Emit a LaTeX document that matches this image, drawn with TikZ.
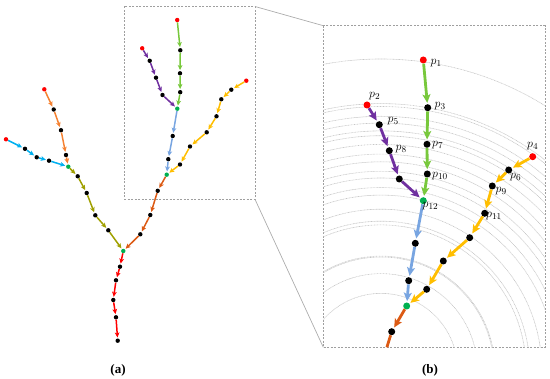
\documentclass[tikz,border=0pt]{standalone}
\usepackage{fontspec}
\newfontfamily\capfont{Liberation Serif}
\usetikzlibrary{arrows.meta}
\definecolor{cRed}{RGB}{255,0,0}
\definecolor{cOlive}{RGB}{160,160,0}
\definecolor{cDOrange}{RGB}{220,90,20}
\definecolor{cLOrange}{RGB}{245,130,50}
\definecolor{cCyan}{RGB}{0,176,240}
\definecolor{cGreen}{RGB}{120,200,60}
\definecolor{cPurple}{RGB}{112,48,160}
\definecolor{cLBlue}{RGB}{120,165,225}
\definecolor{cYellow}{RGB}{255,190,0}
\definecolor{cJunc}{RGB}{0,176,80}
\definecolor{cArc}{RGB}{198,198,198}
\begin{document}
\begin{tikzpicture}[x=1pt,y=-1pt,
  ldot/.style={circle,inner sep=0pt,minimum size=4.4pt,fill=black},
  rdot/.style={circle,inner sep=0pt,minimum size=7pt,fill=black},
  tipdot/.style={fill=cRed},
  juncdot/.style={fill=cJunc},
  larr/.style={line width=1.5pt,-{Stealth[length=5pt,width=4.6pt,inset=1.2pt]},shorten >=0.8pt},
  rarr/.style={line width=2.8pt,-{Stealth[length=8.5pt,width=8pt,inset=2pt]},shorten >=1.2pt},
  arcline/.style={draw=cArc,line width=0.6pt,dash pattern=on 0.9pt off 0.6pt},
  zoombox/.style={draw=gray!75,line width=0.7pt,dash pattern=on 2pt off 1.5pt},
  linkline/.style={draw=gray!65,line width=0.7pt},
  lbl/.style={inner sep=0pt,anchor=west,font=\fontsize{13}{15}\selectfont},
  captext/.style={font=\capfont\fontsize{13}{15}\selectfont\bfseries}
]
\useasboundingbox (0,0) rectangle (550,379);

% ---------------- zoom frames and links
\coordinate (sA) at (124.5,6.5);
\coordinate (sB) at (255,199.3);
\coordinate (bA) at (323.3,25.7);
\coordinate (bB) at (545,347.3);
\draw[zoombox] (sA) rectangle (sB);
\draw[zoombox] (bA) rectangle (bB);
\coordinate (sTR) at (255,6.5);
\coordinate (bTL) at (323.3,25.7);
\coordinate (bBL) at (323.3,347.3);
\draw[linkline] (sTR) -- (bTL);
\draw[linkline] (sB) -- (bBL);

% ---------------- background arcs in panel (b)
\begin{scope}
\clip (bA) rectangle (bB);
\coordinate (ctr) at (381,370);
\foreach \r in {311,266.4,263.5,253.7,246.9,239.1,234.3,225.6,215.9,208.2,198.7,192,182.5,174.9,160.8,148.8,145.1,113.9,113,96.4,76.6}
  \draw[arcline] (ctr) circle[radius=\r pt];
\end{scope}

% ---------------- panel (a)
\node[ldot,juncdot] (lJ0) at (123.3,251) {};
\node[ldot] (t1) at (120,266.7) {};
\node[ldot] (t2) at (116,280.3) {};
\node[ldot] (t3) at (113.3,300) {};
\node[ldot] (t4) at (116,317.3) {};
\node[ldot] (t5) at (117.7,340.7) {};
\node[ldot,juncdot] (lJ1) at (68.3,166.7) {};
\node[ldot] (o1) at (77.7,176.3) {};
\node[ldot] (o2) at (86.7,193) {};
\node[ldot] (o3) at (95.3,215.3) {};
\node[ldot] (o4) at (108.3,230.3) {};
\node[ldot,tipdot] (oa0) at (44.3,89.3) {};
\node[ldot] (oa1) at (53.7,109.5) {};
\node[ldot] (oa2) at (61,130.2) {};
\node[ldot] (oa3) at (66,155) {};
\node[ldot,tipdot] (c0) at (6,139.3) {};
\node[ldot] (c1) at (25,148.8) {};
\node[ldot] (c2) at (36.7,157.3) {};
\node[ldot] (c3) at (49,160.7) {};
\node[ldot,juncdot] (lJ2) at (166.7,174.7) {};
\node[ldot] (d1) at (157.7,190.8) {};
\node[ldot] (d2) at (150.3,215) {};
\node[ldot] (d3) at (140.3,234.3) {};
\node[ldot,tipdot] (g0) at (177.2,20) {};
\node[ldot] (g1) at (180.3,50.3) {};
\node[ldot] (g2) at (180,73.3) {};
\node[ldot] (g3) at (180.2,92.2) {};
\node[ldot,juncdot] (lJ3) at (177.3,108.7) {};
\node[ldot,tipdot] (u0) at (142.2,48.3) {};
\node[ldot] (u1) at (149.7,60.8) {};
\node[ldot] (u2) at (156,77.7) {};
\node[ldot] (u3) at (162.5,95) {};
\node[ldot] (b1) at (172.7,136) {};
\node[ldot] (b2) at (168.3,159.2) {};
\node[ldot,tipdot] (y0) at (246.3,80.7) {};
\node[ldot] (y1) at (231.3,89.7) {};
\node[ldot] (y2) at (221.3,99.3) {};
\node[ldot] (y3) at (216.5,116.3) {};
\node[ldot] (y4) at (206.7,132.3) {};
\node[ldot] (y5) at (190,146.5) {};
\node[ldot] (y6) at (180,164.5) {};
\draw[larr,cRed] (lJ0) -- (t1); \draw[larr,cRed] (t1) -- (t2); \draw[larr,cRed] (t2) -- (t3);
\draw[larr,cRed] (t3) -- (t4); \draw[larr,cRed] (t4) -- (t5);
\draw[larr,cOlive] (lJ1) -- (o1); \draw[larr,cOlive] (o1) -- (o2); \draw[larr,cOlive] (o2) -- (o3);
\draw[larr,cOlive] (o3) -- (o4); \draw[larr,cOlive] (o4) -- (lJ0);
\draw[larr,cLOrange] (oa0) -- (oa1); \draw[larr,cLOrange] (oa1) -- (oa2); \draw[larr,cLOrange] (oa2) -- (oa3);
\draw[larr,cLOrange] (oa3) -- (lJ1);
\draw[larr,cCyan] (c0) -- (c1); \draw[larr,cCyan] (c1) -- (c2); \draw[larr,cCyan] (c2) -- (c3);
\draw[larr,cCyan] (c3) -- (lJ1);
\draw[larr,cDOrange] (lJ2) -- (d1); \draw[larr,cDOrange] (d1) -- (d2); \draw[larr,cDOrange] (d2) -- (d3);
\draw[larr,cDOrange] (d3) -- (lJ0);
\draw[larr,cGreen] (g0) -- (g1); \draw[larr,cGreen] (g1) -- (g2); \draw[larr,cGreen] (g2) -- (g3);
\draw[larr,cGreen] (g3) -- (lJ3);
\draw[larr,cPurple] (u0) -- (u1); \draw[larr,cPurple] (u1) -- (u2); \draw[larr,cPurple] (u2) -- (u3);
\draw[larr,cPurple] (u3) -- (lJ3);
\draw[larr,cLBlue] (lJ3) -- (b1); \draw[larr,cLBlue] (b1) -- (b2); \draw[larr,cLBlue] (b2) -- (lJ2);
\draw[larr,cYellow] (y0) -- (y1); \draw[larr,cYellow] (y1) -- (y2); \draw[larr,cYellow] (y2) -- (y3);
\draw[larr,cYellow] (y3) -- (y4); \draw[larr,cYellow] (y4) -- (y5); \draw[larr,cYellow] (y5) -- (y6);
\draw[larr,cYellow] (y6) -- (lJ2);
\node[captext] (capa) at (118,370) {(a)};

% ---------------- panel (b)
\node[rdot,tipdot] (R1) at (423.3,60) {};
\node[rdot] (R3) at (427.7,107.7) {};
\node[rdot] (R7) at (427,144.3) {};
\node[rdot] (R10) at (427.3,174) {};
\node[rdot,juncdot] (R12) at (423.3,200.7) {};
\node[rdot,tipdot] (R2) at (367,105) {};
\node[rdot] (R5) at (379.3,124.7) {};
\node[rdot] (R8) at (389.3,150.7) {};
\node[rdot] (Ru4) at (399.3,179) {};
\node[rdot] (Rb1) at (415.3,243.3) {};
\node[rdot] (Rb2) at (408.7,280.7) {};
\node[rdot,juncdot] (RJ) at (406.7,306) {};
\node[rdot,tipdot] (R4) at (532.7,156.7) {};
\node[rdot] (R6) at (508.7,170) {};
\node[rdot] (R9) at (492.3,186) {};
\node[rdot] (R11) at (484.7,213.3) {};
\node[rdot] (Ry1) at (469.7,237.7) {};
\node[rdot] (Ry2) at (443.3,261) {};
\node[rdot] (Ry3) at (426.7,289.3) {};
\node[rdot] (Ro1) at (391.7,331.7) {};
\coordinate (Rend) at (386.9,347.3);
\draw[rarr,cGreen] (R1) -- (R3); \draw[rarr,cGreen] (R3) -- (R7); \draw[rarr,cGreen] (R7) -- (R10);
\draw[rarr,cGreen] (R10) -- (R12);
\draw[rarr,cPurple] (R2) -- (R5); \draw[rarr,cPurple] (R5) -- (R8); \draw[rarr,cPurple] (R8) -- (Ru4);
\draw[rarr,cPurple] (Ru4) -- (R12);
\draw[rarr,cLBlue] (R12) -- (Rb1); \draw[rarr,cLBlue] (Rb1) -- (Rb2); \draw[rarr,cLBlue] (Rb2) -- (RJ);
\draw[rarr,cYellow] (R4) -- (R6); \draw[rarr,cYellow] (R6) -- (R9); \draw[rarr,cYellow] (R9) -- (R11);
\draw[rarr,cYellow] (R11) -- (Ry1); \draw[rarr,cYellow] (Ry1) -- (Ry2); \draw[rarr,cYellow] (Ry2) -- (Ry3);
\draw[rarr,cYellow] (Ry3) -- (RJ);
\draw[rarr,cDOrange] (RJ) -- (Ro1);
\draw[line width=2.8pt,cDOrange] (Ro1) -- (Rend);
\node[lbl] (L1) at (430.5,63) {$p_{1}$};
\node[lbl] (L2) at (369,96) {$p_{2}$};
\node[lbl] (L3) at (434.5,106.5) {$p_{3}$};
\node[lbl] (L4) at (527,146.5) {$p_{4}$};
\node[lbl] (L5) at (387.5,121.5) {$p_{5}$};
\node[lbl] (L6) at (510,177) {$p_{6}$};
\node[lbl] (L7) at (432,145) {$p_{7}$};
\node[lbl] (L8) at (395.5,149) {$p_{8}$};
\node[lbl] (L9) at (495.5,191.5) {$p_{9}$};
\node[lbl] (L10) at (432,176) {$p_{10}$};
\node[lbl] (L11) at (486,216) {$p_{11}$};
\node[lbl] (L12) at (422.5,206.5) {$p_{12}$};
\node[captext] (capb) at (430,370) {(b)};
\end{tikzpicture}
\end{document}
